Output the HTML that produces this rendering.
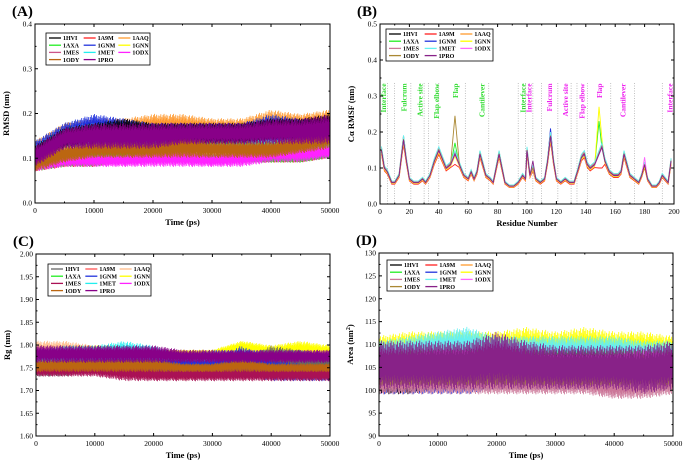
<!DOCTYPE html>
<html><head><meta charset="utf-8"><style>
body{margin:0;background:#fff}
svg{display:block;font-family:"Liberation Serif",serif}
</style></head><body>
<svg id="fig" width="685" height="465" viewBox="0 0 685 465" xmlns="http://www.w3.org/2000/svg"></svg>
<script>
const T=[0,5000,10000,15000,20000,25000,30000,35000,40000,45000,50000];
const names=["1HVI","1A9M","1AAQ","1AXA","1GNM","1GNN","1MES","1MET","1ODX","1ODY","1PRO"];
const cols=["#000000","#ff2020","#ff9a30","#22ee22","#2233dd","#ffff00","#cc5588","#22eeee","#ff22ff","#bb6611","#880088"];
const colsB=["#000000","#ff2020","#ff9a30","#22ee22","#2233dd","#ffff00","#cc7799","#66f0f0","#ff66ff","#aa8833","#882288"];
const colsC=["#666666","#ff5555","#ffbb88","#22ee22","#2233dd","#ffff00","#aa1155","#22eeee","#ff22ff","#bb6611","#880088"];
// Panel A RMSD envelopes
const aSeries=["1AAQ","1GNM","1MET","1HVI","1A9M","1AXA","1ODX","1ODY","1PRO"];
const aLo=[[0.09,0.13,0.13,0.14,0.14,0.14,0.14,0.14,0.14,0.15,0.15],[0.09,0.13,0.14,0.14,0.13,0.13,0.13,0.13,0.13,0.13,0.13],[0.09,0.12,0.12,0.12,0.11,0.11,0.11,0.11,0.10,0.10,0.10],[0.09,0.12,0.13,0.13,0.13,0.13,0.13,0.13,0.14,0.14,0.14],[0.07,0.08,0.08,0.09,0.09,0.09,0.09,0.09,0.09,0.09,0.10],[0.07,0.08,0.08,0.09,0.09,0.09,0.09,0.09,0.09,0.09,0.10],[0.07,0.08,0.08,0.08,0.08,0.08,0.08,0.08,0.09,0.09,0.10],[0.07,0.09,0.10,0.10,0.10,0.10,0.10,0.10,0.10,0.11,0.12],[0.08,0.12,0.12,0.12,0.12,0.13,0.13,0.13,0.13,0.13,0.13]];
const aHi=[[0.14,0.18,0.19,0.19,0.20,0.20,0.19,0.19,0.21,0.20,0.21],[0.14,0.18,0.20,0.19,0.18,0.18,0.18,0.18,0.20,0.19,0.19],[0.13,0.17,0.18,0.18,0.17,0.17,0.17,0.16,0.15,0.15,0.14],[0.13,0.17,0.18,0.19,0.18,0.18,0.18,0.18,0.19,0.19,0.20],[0.10,0.11,0.11,0.11,0.11,0.11,0.11,0.11,0.11,0.11,0.12],[0.11,0.12,0.12,0.12,0.12,0.11,0.11,0.11,0.11,0.11,0.12],[0.10,0.11,0.11,0.11,0.12,0.12,0.11,0.12,0.13,0.13,0.13],[0.11,0.13,0.14,0.14,0.14,0.15,0.14,0.14,0.14,0.15,0.17],[0.13,0.17,0.18,0.18,0.18,0.18,0.18,0.18,0.19,0.19,0.20]];
// Panel C Rg envelopes
const cSeries=["1GNN","1AAQ","1MET","1HVI","1GNM","1MES","1ODY","1PRO"];
const cLo=[[1.77,1.77,1.77,1.77,1.77,1.77,1.77,1.78,1.77,1.77,1.77],[1.76,1.76,1.75,1.74,1.73,1.72,1.73,1.74,1.74,1.74,1.74],[1.74,1.75,1.75,1.75,1.74,1.73,1.74,1.74,1.74,1.74,1.74],[1.73,1.73,1.74,1.74,1.74,1.74,1.73,1.74,1.74,1.74,1.74],[1.74,1.74,1.74,1.74,1.74,1.74,1.74,1.73,1.72,1.72,1.72],[1.73,1.73,1.73,1.72,1.72,1.72,1.72,1.72,1.72,1.72,1.72],[1.74,1.74,1.74,1.74,1.74,1.74,1.74,1.74,1.74,1.74,1.74],[1.76,1.76,1.76,1.76,1.76,1.76,1.76,1.76,1.76,1.76,1.76]];
const cHi=[[1.80,1.80,1.80,1.80,1.79,1.79,1.79,1.81,1.80,1.81,1.80],[1.81,1.81,1.80,1.80,1.79,1.78,1.79,1.79,1.79,1.79,1.79],[1.79,1.80,1.80,1.81,1.80,1.78,1.79,1.79,1.79,1.79,1.78],[1.76,1.76,1.77,1.77,1.77,1.77,1.76,1.77,1.80,1.79,1.78],[1.76,1.77,1.77,1.77,1.77,1.77,1.77,1.80,1.77,1.76,1.75],[1.76,1.76,1.76,1.76,1.75,1.75,1.75,1.75,1.75,1.75,1.75],[1.77,1.77,1.77,1.77,1.77,1.76,1.76,1.77,1.76,1.76,1.76],[1.80,1.80,1.80,1.80,1.80,1.79,1.79,1.79,1.79,1.79,1.79]];
// Panel D SASA envelopes
const dSeries=["1GNN","1MET","1GNM","1AXA","1HVI","1ODX","1MES","1ODY","1PRO"];
const dLo=[[104,104,104,104,104,104,104,104,104,104,104],[104,104,105,105,105,105,104,104,104,104,104],[99,99,99,99,100,100,100,100,100,100,100],[100,100,101,101,101,101,101,101,101,101,101],[99,99,100,100,100,100,100,100,100,100,100],[100,101,101,101,100,101,101,101,101,101,101],[99,99,99,99,99,99,99,99,98,98,99],[101,101,101,101,101,101,101,101,101,101,101],[100,100,100,100,100,100,100,100,100,99,100]];
const dHi=[[112,113,113,113,113,114,113,114,113,113,112],[111,112,113,114,112,112,112,112,112,111,111],[108,108,109,109,110,109,109,109,108,108,108],[108,109,109,109,109,109,109,109,109,109,109],[108,108,108,108,108,108,108,108,108,108,108],[108,108,109,109,108,108,108,108,108,109,108],[105,105,105,105,105,105,105,105,104,105,105],[106,106,106,106,107,106,106,106,106,108,106],[111,111,111,111,113,111,110,110,110,110,111]];
// Panel B RMSF
const resid=[1,3,5,8,10,13,16,18,20,23,26,29,31,34,37,40,42,45,48,51,54,57,60,62,64,66,68,70,72,75,77,79,81,83,85,88,91,94,97,99,100,102,104,106,109,112,114,116,118,120,123,126,129,132,135,137,139,141,143,146,149,151,153,156,159,162,164,166,168,170,173,176,178,180,182,185,188,190,192,194,196,198];
const rmsfBase=[0.15,0.10,0.09,0.06,0.06,0.08,0.18,0.12,0.07,0.06,0.06,0.07,0.06,0.08,0.12,0.15,0.13,0.10,0.11,0.14,0.11,0.08,0.07,0.09,0.07,0.09,0.14,0.11,0.08,0.07,0.06,0.10,0.14,0.10,0.06,0.05,0.05,0.06,0.08,0.07,0.15,0.08,0.10,0.07,0.06,0.07,0.12,0.19,0.12,0.07,0.06,0.07,0.06,0.06,0.10,0.13,0.14,0.11,0.10,0.11,0.14,0.16,0.12,0.09,0.08,0.08,0.09,0.14,0.11,0.08,0.07,0.06,0.08,0.11,0.07,0.05,0.05,0.06,0.08,0.07,0.06,0.12];
const rmsfScale=[1.0,0.92,1.05,0.97,1.02,0.95,1.03,1.06,0.98,1.0,0.99];
const rmsfPeaks=[{},{"149":0.10,"151":0.10,"51":0.11},{},{"149":0.23,"51":0.17},{"116":0.21},{"149":0.27,"151":0.18},{"16":0.19},{"116":0.20,"1":0.16},{"180":0.13},{"51":0.245},{"104":0.12}];
const vlines=[5,10,21,30,33,40,58,74,94,99,104,110,121,130,134,141,157,173,192];
const regLabels=["Interface","Fulcrum","Active site","Flap elbow","Flap","Cantilever","Interface","Interface","Fulcrum","Active site","Flap elbow","Flap","Cantilever","Interface"];
const regPos=[2,16,27,38,51,69,97,101,115,126,137,149,165,197];
const pattern=[0.9,0.3,0.7,0.1,1.0,0.45,0.8,0.2,0.6,0.05,0.95,0.35,0.75,0.15,0.55,0.85,0.25,0.65];

const NS="http://www.w3.org/2000/svg";
const svg=document.getElementById('fig');
function el(tag,attrs,parent,text){const e=document.createElementNS(NS,tag);for(const k in attrs)e.setAttribute(k,attrs[k]);if(text!==undefined)e.textContent=text;(parent||svg).appendChild(e);return e;}
function interp(arr,t){const i=Math.min(9,Math.floor(t/5000));const f=(t-T[i])/5000;return arr[i]+(arr[i+1]-arr[i])*f;}

function panel(p){
  const g=el('g',{});
  
  
  const sx=v=>p.x0+(v-p.xmin)/(p.xmax-p.xmin)*(p.x1-p.x0);
  const sy=v=>p.yb-(v-p.ymin)/(p.ymax-p.ymin)*(p.yb-p.yt);
  p.sx=sx;p.sy=sy;p.g=g;
  const lab=el('text',{x:p.x0-23,y:p.yt-8,'font-size':15,'font-weight':'bold'},g,'('+p.id+')');
  
  
  return p;
}
function axes(p){
  const g=p.g,sx=p.sx,sy=p.sy;
  el('rect',{x:p.x0,y:p.yt,width:p.x1-p.x0,height:p.yb-p.yt,fill:'none',stroke:'#000','stroke-width':1},g);
  p.xt.forEach((v,i)=>{const x=sx(v);
    el('line',{x1:x,x2:x,y1:p.yb,y2:p.yb-3,stroke:'#000'},g);el('line',{x1:x,x2:x,y1:p.yt,y2:p.yt+3,stroke:'#000'},g);
    const t=el('text',{x:x,y:p.yb+10,'font-size':7.5,'text-anchor':'middle'},g,p.xl[i]);
    
    if(i<p.xt.length-1){const m=sx((v+p.xt[i+1])/2);el('line',{x1:m,x2:m,y1:p.yb,y2:p.yb-1.5,stroke:'#000'},g);el('line',{x1:m,x2:m,y1:p.yt,y2:p.yt+1.5,stroke:'#000'},g);}
  });
  p.yt_.forEach((v,i)=>{const y=sy(v);
    el('line',{x1:p.x0,x2:p.x0+3,y1:y,y2:y,stroke:'#000'},g);el('line',{x1:p.x1,x2:p.x1-3,y1:y,y2:y,stroke:'#000'},g);
    const t=el('text',{x:p.x0-3,y:y+2.5,'font-size':7.5,'text-anchor':'end'},g,p.yl[i]);
    
    if(i<p.yt_.length-1){const m=sy((v+p.yt_[i+1])/2);el('line',{x1:p.x0,x2:p.x0+1.5,y1:m,y2:m,stroke:'#000'},g);el('line',{x1:p.x1,x2:p.x1-1.5,y1:m,y2:m,stroke:'#000'},g);}
  });
  const xt=el('text',{x:(p.x0+p.x1)/2,y:p.yb+22,'font-size':8.5,'font-weight':'bold','text-anchor':'middle'},g,p.xtitle);
  
  const yx=p.x0-26,yy=(p.yt+p.yb)/2;
  const yt=el('text',{x:yx,y:yy,'font-size':8.5,'font-weight':'bold','text-anchor':'middle',transform:`rotate(-90 ${yx} ${yy})`},g);
  yt.innerHTML=p.ytitle;
  
}
function legend(p,lx,ly,w,h,colors){
  const g=el('g',{},p.g);
  
  el('rect',{x:lx,y:ly,width:w,height:h,fill:'#fff',stroke:'#000','stroke-width':0.8},g);
  names.forEach((n,i)=>{const c=i%3,r=Math.floor(i/3);const bx=lx+3+c*(w/3),by=ly+5+r*7.2;
    const e=el('g',{},g);
    
    el('line',{x1:bx,x2:bx+12,y1:by,y2:by,stroke:colors[i],'stroke-width':1.3},e);
    el('text',{x:bx+14,y:by+2.2,'font-size':6,'font-weight':'bold'},e,n);
  });
}
function bands(p,series,lo,hi,colors){
  series.forEach((n,si)=>{
    const idx=names.indexOf(n);
    const pts=[];let k=si*5;
    for(let t=0;t<=50000;t+=90){
      const l=interp(lo[si],t),h=interp(hi[si],t),r=h-l;
      const a=pattern[k%pattern.length],b=pattern[(k+7)%pattern.length];k++;
      pts.push(p.sx(t).toFixed(2)+','+p.sy(h-r*0.3*a).toFixed(2));
      pts.push((p.sx(t)+0.3).toFixed(2)+','+p.sy(l+r*0.3*b).toFixed(2));
    }
    const pl=el('polyline',{points:pts.join(' '),fill:'none',stroke:colors[idx],'stroke-width':0.8},p.g);
    
    
  });
}
const xt5=[0,10000,20000,30000,40000,50000],xl5=xt5.map(String);

// A
const A=panel({id:'A',x0:35,x1:330,yt:24,yb:203,xmin:0,xmax:50000,ymin:0,ymax:0.4});
bands(A,aSeries,aLo,aHi,cols);
Object.assign(A,{xt:xt5,xl:xl5,yt_:[0,0.1,0.2,0.3,0.4],yl:["0.0","0.1","0.2","0.3","0.4"],xtitle:"Time (ps)",ytitle:"RMSD (nm)"});
axes(A);legend(A,46,33,104,32,cols);

// B
const B=panel({id:'B',x0:380,x1:674,yt:24,yb:204,xmin:0,xmax:200,ymin:0,ymax:0.5});
vlines.forEach(r=>{const l=el('line',{x1:B.sx(r),x2:B.sx(r),y1:B.sy(0),y2:B.sy(0.34),stroke:'#999','stroke-width':0.6,'stroke-dasharray':'1,1.5'},B.g);});
regLabels.forEach((s,i)=>{const x=B.sx(regPos[i])+3,y=B.sy(0.335);
  const t=el('text',{x:x,y:y,'font-size':7.5,'font-weight':'bold',fill:i<7?'#33dd33':'#ee22ee','text-anchor':'end',transform:`rotate(-90 ${x} ${y})`},B.g,s);
  });
names.forEach((n,si)=>{
  const pts=resid.map((r,j)=>{let v=rmsfBase[j]*rmsfScale[si];if(rmsfPeaks[si][r]!==undefined)v=rmsfPeaks[si][r];return B.sx(r).toFixed(2)+','+B.sy(v).toFixed(2);});
  const pl=el('polyline',{points:pts.join(' '),fill:'none',stroke:colsB[si],'stroke-width':0.9},B.g);
  
  
});
Object.assign(B,{xt:[0,20,40,60,80,100,120,140,160,180,200],xl:["0","20","40","60","80","100","120","140","160","180","200"],yt_:[0,0.1,0.2,0.3,0.4,0.5],yl:["0.0","0.1","0.2","0.3","0.4","0.5"],xtitle:"Residue Number",ytitle:"Cα RMSF (nm)"});
axes(B);legend(B,386,29,107,32,colsB);

// C
const C=panel({id:'C',x0:36,x1:330,yt:254,yb:436,xmin:0,xmax:50000,ymin:1.6,ymax:2.0});
bands(C,cSeries,cLo,cHi,colsC);
Object.assign(C,{xt:xt5,xl:xl5,yt_:[1.6,1.65,1.7,1.75,1.8,1.85,1.9,1.95,2.0],yl:["1.60","1.65","1.70","1.75","1.80","1.85","1.90","1.95","2.00"],xtitle:"Time (ps)",ytitle:"Rg (nm)"});
axes(C);legend(C,48,264,103,32,colsC);

// D
const D=panel({id:'D',x0:379,x1:673,yt:253,yb:436,xmin:0,xmax:50000,ymin:90,ymax:130});
bands(D,dSeries,dLo,dHi,colsB);
Object.assign(D,{xt:xt5,xl:xl5,yt_:[90,95,100,105,110,115,120,125,130],yl:["90","95","100","105","110","115","120","125","130"],xtitle:"Time (ps)",ytitle:'Area (nm<tspan baseline-shift="super" font-size="6">2</tspan>)'});
axes(D);legend(D,387,260,106,31,colsB);
</script>
</body></html>
